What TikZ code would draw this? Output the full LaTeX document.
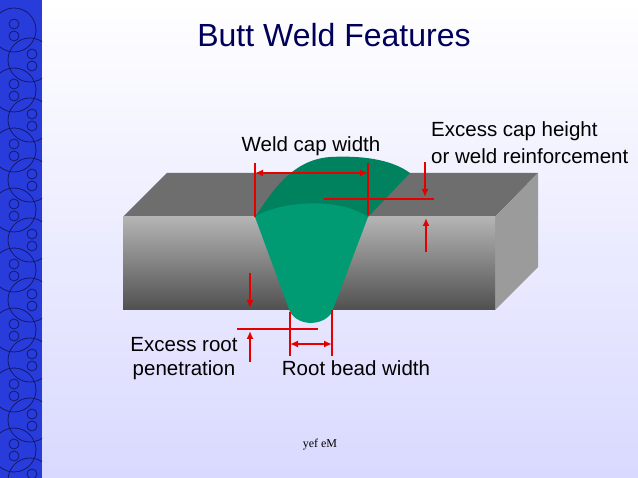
\documentclass[tikz,border=0pt]{standalone}
\usepackage{fontspec}
\setmainfont{Liberation Sans}
\newfontfamily\serif{Liberation Serif}
\usetikzlibrary{arrows.meta}
\definecolor{topg}{RGB}{110,110,110}
\definecolor{sideg}{RGB}{155,155,155}
\definecolor{frontt}{RGB}{180,180,180}
\definecolor{frontb}{RGB}{80,80,80}
\definecolor{weldtop}{RGB}{0,130,95}
\definecolor{weldfr}{RGB}{0,155,115}
\definecolor{strip}{RGB}{40,60,220}
\definecolor{orn}{RGB}{20,25,110}
\definecolor{titlec}{RGB}{0,0,90}
\begin{document}
\begin{tikzpicture}[x=1pt,y=-1pt,
  dim/.style={red!90!black,line width=2pt},
  tip/.tip={Latex[length=8pt,width=7pt]},
  arr/.style={dim,-tip},
  lbl/.style={font=\fontsize{20.5}{24}\selectfont,inner sep=0pt}]
\useasboundingbox (0,0) rectangle (638,478);
\shade[top color=white,bottom color=blue!15] (0,0) rectangle (638,478);
\fill[strip] (0,0) rectangle (42,478);
\begin{scope}
\clip (0,0) rectangle (42,478);
\foreach \i in {0,...,7}{
  \draw[orn,line width=0.8pt] (14,30+\i*60) circle (22);
  \draw[orn,line width=0.8pt] (14,24+\i*60) circle (5) (14,36+\i*60) circle (5);
  \draw[orn,line width=0.8pt] (30,60+\i*60) circle (22);
  \draw[orn,line width=0.8pt] (32,54+\i*60) circle (5) (32,66+\i*60) circle (5);
}
\end{scope}
% title
\node[font=\fontsize{32}{36}\selectfont,text=titlec,inner sep=0pt] (title) at (334,35) {Butt Weld Features};
% block
\fill[topg] (123,217) -- (167,173) -- (538,173) -- (495,217) -- cycle;
\fill[sideg] (495,217) -- (538,173) -- (538,267) -- (495,310) -- cycle;
\shade[top color=frontt,bottom color=frontb] (123,217) rectangle (495,310);
% weld top (darker)
\fill[weldtop] (255,217) .. controls (270,195) and (290,160) .. (330,157) .. controls (370,155) and (395,162) .. (410,173) -- (368,217) -- cycle;
% weld front
\fill[weldfr] (255,217) .. controls (275,203) and (335,195) .. (368,217) -- (332,312) .. controls (325,325) and (300,328) .. (290,312) -- cycle;
% dimensions
\coordinate (c1) at (255,163); \coordinate (c1b) at (255,217);
\coordinate (c2) at (368,163); \coordinate (c2b) at (368,215);
\draw[dim] (c1) -- (c1b); \draw[dim] (c2) -- (c2b);
\coordinate (w1) at (255,173); \coordinate (w2) at (368,173);
\draw[dim,tip-tip] (w1) -- (w2);
\coordinate (h1) at (324,199); \coordinate (h2) at (434,199);
\draw[dim] (h1) -- (h2);
\coordinate (a1) at (425,162); \coordinate (a1e) at (425,197);
\draw[arr] (a1) -- (a1e);
\coordinate (a2) at (426,252); \coordinate (a2e) at (426,218);
\draw[arr] (a2) -- (a2e);
\coordinate (r1) at (250,273); \coordinate (r1e) at (250,308);
\draw[arr] (r1) -- (r1e);
\coordinate (r2) at (237,329); \coordinate (r2e) at (318,329);
\draw[dim] (r2) -- (r2e);
\coordinate (r3) at (250,362); \coordinate (r3e) at (250,331);
\draw[arr] (r3) -- (r3e);
\coordinate (b1) at (290,312); \coordinate (b1e) at (290,356);
\coordinate (b2) at (332,310); \coordinate (b2e) at (332,356);
\draw[dim] (b1) -- (b1e); \draw[dim] (b2) -- (b2e);
\coordinate (bb1) at (290,344); \coordinate (bb2) at (332,344);
\draw[dim,tip-tip] (bb1) -- (bb2);
% labels
\node[lbl] (wcw) at (311,146) {Weld cap width};
\node[lbl,anchor=west] (ech) at (431,131) {Excess cap height};
\node[lbl,anchor=west] (owr) at (431,156) {or weld reinforcement};
\node[lbl] (er) at (184,345) {Excess root};
\node[lbl] (pen) at (184,370) {penetration};
\node[lbl] (rbw) at (356,368) {Root bead width};
\node[font=\serif\fontsize{12}{14}\selectfont,inner sep=0pt] (ft) at (320,445) {yef eM};
\end{tikzpicture}
\end{document}
